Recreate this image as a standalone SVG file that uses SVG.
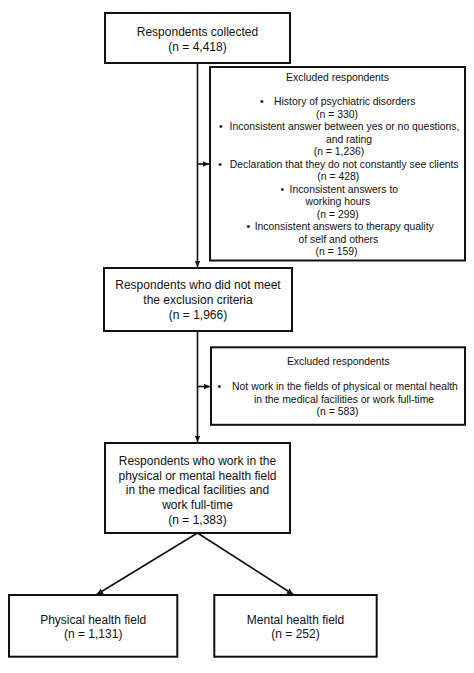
<svg xmlns="http://www.w3.org/2000/svg" width="474" height="673" viewBox="0 0 474 673">
<style>
.box{fill:#fff;stroke:#111;stroke-width:2}
.t{font-family:"Liberation Sans",Arial,sans-serif;font-size:12px;fill:#111;text-anchor:middle}
.s{font-family:"Liberation Sans",Arial,sans-serif;font-size:10.4px;fill:#111;text-anchor:middle}
.ln{fill:none;stroke:#111;stroke-width:1.6}
</style>
<defs>
<marker id="ah" markerUnits="userSpaceOnUse" markerWidth="7" markerHeight="6" refX="6.5" refY="3" orient="auto">
<path d="M0,0 L6.5,3 L0,6 z" fill="#111"/>
</marker>
</defs>
<rect width="474" height="673" fill="#fff"/>
<g id="connectors">
<line class="ln" x1="197.5" y1="63" x2="197.5" y2="267" marker-end="url(#ah)"/>
<line class="ln" x1="197.5" y1="164" x2="209" y2="164" marker-end="url(#ah)"/>
<line class="ln" x1="197.5" y1="331" x2="197.5" y2="442" marker-end="url(#ah)"/>
<line class="ln" x1="197.5" y1="386.5" x2="210" y2="386.5" marker-end="url(#ah)"/>
<line class="ln" x1="197.5" y1="533" x2="96.7" y2="594.5" marker-end="url(#ah)"/>
<line class="ln" x1="197.5" y1="533" x2="293.3" y2="594.5" marker-end="url(#ah)"/>
</g>
<g id="collected">
<rect class="box" x="105" y="13" width="185" height="50"/>
<text class="t" x="197.5" y="36.3">Respondents collected</text>
<text class="t" x="197.5" y="50.5">(n = 4,418)</text>
</g>
<g id="excluded1">
<rect class="box" x="210" y="67" width="255" height="193.5"/>
<text class="s" x="337.5" y="80.7">Excluded respondents</text>
<text class="s" x="261.7" y="105">•</text><text class="s" x="344.8" y="105">History of psychiatric disorders</text>
<text class="s" x="337" y="117.5">(n = 330)</text>
<text class="s" x="220.7" y="130">•</text><text class="s" x="344.5" y="130">Inconsistent answer between yes or no questions,</text>
<text class="s" x="349" y="142.6">and rating</text>
<text class="s" x="339" y="155.1">(n = 1,236)</text>
<text class="s" x="220" y="167.6">•</text><text class="s" x="344.2" y="167.6">Declaration that they do not constantly see clients</text>
<text class="s" x="338.3" y="180.2">(n = 428)</text>
<text class="s" x="282.3" y="192.7">•</text><text class="s" x="343.8" y="192.7">Inconsistent answers to</text>
<text class="s" x="337.8" y="205.2">working hours</text>
<text class="s" x="337.8" y="217.8">(n = 299)</text>
<text class="s" x="248.3" y="230.3">•</text><text class="s" x="344.2" y="230.3">Inconsistent answers to therapy quality</text>
<text class="s" x="338.3" y="242.8">of self and others</text>
<text class="s" x="336.5" y="255.4">(n = 159)</text>
</g>
<g id="notmeet">
<rect class="box" x="104" y="268" width="188" height="63"/>
<text class="t" x="198" y="289.3">Respondents who did not meet</text>
<text class="t" x="198" y="304.3">the exclusion criteria</text>
<text class="t" x="198" y="319.3">(n = 1,966)</text>
</g>
<g id="excluded2">
<rect class="box" x="211" y="347.3" width="254" height="77.5"/>
<text class="s" x="338.3" y="365.4">Excluded respondents</text>
<text class="s" x="219.3" y="390.4">•</text><text class="s" x="345" y="390.4">Not work in the fields of physical or mental health</text>
<text class="s" x="344" y="403">in the medical facilities or work full-time</text>
<text class="s" x="337.5" y="415.4">(n = 583)</text>
</g>
<g id="workfield">
<rect class="box" x="105" y="443" width="185" height="90"/>
<text class="t" x="197.5" y="465">Respondents who work in the</text>
<text class="t" x="197.5" y="479.7">physical or mental health field</text>
<text class="t" x="197.5" y="494.4">in the medical facilities and</text>
<text class="t" x="197.5" y="509.1">work full-time</text>
<text class="t" x="197.5" y="523.8">(n = 1,383)</text>
</g>
<g id="physical">
<rect class="box" x="9" y="595" width="168.3" height="61.7"/>
<text class="t" x="93.2" y="623.6">Physical health field</text>
<text class="t" x="93.2" y="638.3">(n = 1,131)</text>
</g>
<g id="mental">
<rect class="box" x="214.3" y="595" width="162.4" height="61.7"/>
<text class="t" x="295.5" y="623.6">Mental health field</text>
<text class="t" x="295.5" y="638.3">(n = 252)</text>
</g>
</svg>
